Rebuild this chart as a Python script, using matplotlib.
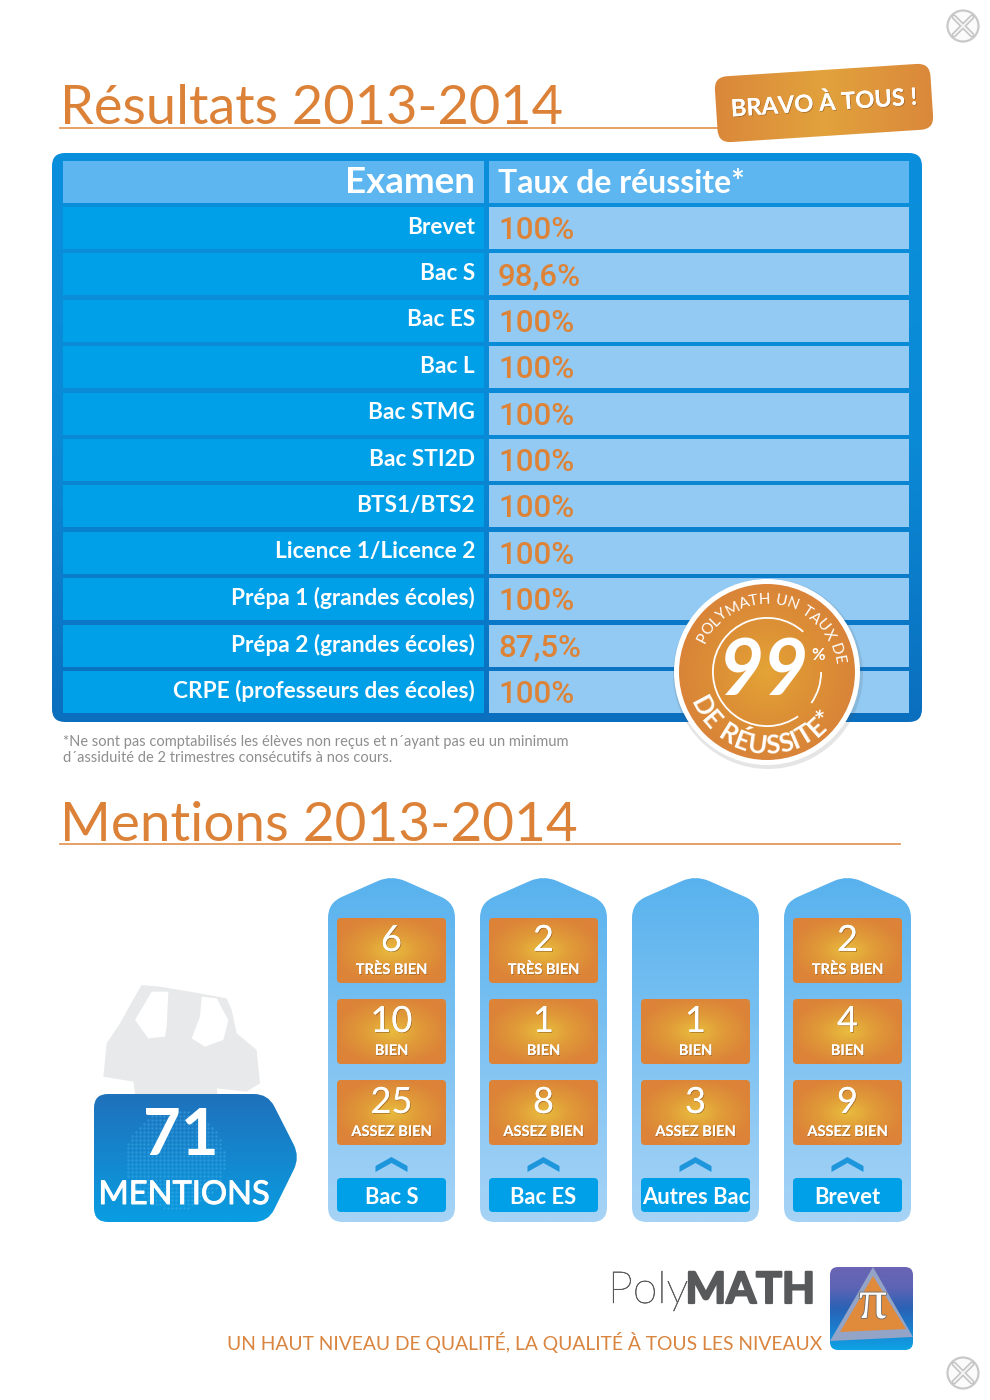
import numpy as np
import matplotlib
matplotlib.use("Agg")
import matplotlib.pyplot as plt
import matplotlib.patheffects as pe
from matplotlib.colors import LinearSegmentedColormap
from matplotlib.font_manager import FontProperties
from matplotlib.patches import Circle, FancyBboxPatch, PathPatch, Polygon, Wedge
from matplotlib.path import Path
from matplotlib.transforms import Affine2D

plt.rcParams['font.family'] = ['Lato', 'DejaVu Sans']

# Results table
exams = ["Brevet", "Bac S", "Bac ES", "Bac L", "Bac STMG", "Bac STI2D", "BTS1/BTS2",
         "Licence 1/Licence 2", "Prépa 1 (grandes écoles)", "Prépa 2 (grandes écoles)",
         "CRPE (professeurs des écoles)"]
rates = [100, 98.6, 100, 100, 100, 100, 100, 100, 100, 87.5, 100]

# Mentions per exam, None = no box
mention_exams = ["Bac S", "Bac ES", "Autres Bac", "Brevet"]
tres_bien = [6, 2, None, 2]
bien = [10, 1, 1, 4]
assez_bien = [25, 8, 3, 9]
mention_names = ["TRÈS BIEN", "BIEN", "ASSEZ BIEN"]
total_mentions = 71

ORANGE = "#dc8238"
LINE_ORANGE = "#e39a5c"

fig = plt.figure(figsize=(9.9, 14), dpi=100)
ax = fig.add_axes([0, 0, 1, 1])
ax.set_xlim(0, 990)
ax.set_ylim(1400, 0)
ax.axis("off")


def rounded_path(points, r):
    """Closed path through points with rounded corners."""
    pts = np.array(points, dtype=float)
    verts, codes = [], []
    n = len(pts)
    for i in range(n):
        p, prev, nxt = pts[i], pts[i - 1], pts[(i + 1) % n]
        a = p + (prev - p) / np.linalg.norm(prev - p) * r
        b = p + (nxt - p) / np.linalg.norm(nxt - p) * r
        verts += [a, p, b]
        codes += [Path.LINETO, Path.CURVE3, Path.CURVE3]
    codes[0] = Path.MOVETO
    verts.append(verts[0])
    codes.append(Path.CLOSEPOLY)
    return Path(verts, codes)


def fill_gradient(patch, box, colors, mode="v", z=2):
    """Clip a gradient image to patch. mode: v, h or r (radial)."""
    x0, y0, x1, y1 = box
    u, v = np.meshgrid(np.linspace(-1, 1, 120), np.linspace(-1, 1, 120))
    if mode == "v":
        g = (v + 1) / 2
    elif mode == "h":
        g = np.abs(u)
    else:
        g = np.clip(np.sqrt(u**2 + v**2) / 1.05, 0, 1)
    cmap = LinearSegmentedColormap.from_list("g", colors)
    patch.set_facecolor("none")
    patch.set_edgecolor("none")
    patch.set_zorder(z)
    ax.add_patch(patch)
    im = ax.imshow(g, extent=(x0, x1, y1, y0), cmap=cmap, vmin=0, vmax=1,
                   aspect="auto", zorder=z, interpolation="bilinear")
    im.set_clip_path(patch)


def round_box(x, y, w, h, r, **kw):
    return FancyBboxPatch((x + r, y + r), w - 2 * r, h - 2 * r,
                          boxstyle=f"round,pad={r},rounding_size={r}", linewidth=0, **kw)


def close_button(cx, cy):
    ax.add_patch(Circle((cx, cy), 15.5, fc="#fbfbfb", ec="#c9c9c9", lw=1.6, zorder=3))
    for dx in (-1, 1):
        ax.plot([cx - 9, cx + 9], [cy - 9 * dx, cy + 9 * dx], color="#c4c4c4", lw=3.6,
                solid_capstyle="round", zorder=4)
    for dx in (-1, 1):
        ax.plot([cx - 9, cx + 9], [cy - 9 * dx, cy + 9 * dx], color="#f4f4f4", lw=1.4,
                solid_capstyle="round", zorder=4)


def arc_text(s, cx, cy, radius, start, end, top, size, weight="normal"):
    """Characters along a circle between two angles (degrees, screen counter-clockwise)."""
    fp = FontProperties(family="Lato", size=size, weight=weight)
    rend = fig.canvas.get_renderer()
    widths = []
    for ch in s:
        w = rend.get_text_width_height_descent(ch, fp, False)[0] if ch != " " else size * 0.45
        widths.append(w + 0.6)
    widths = np.array(widths)
    centres = (np.cumsum(widths) - widths / 2) / widths.sum()
    for ch, c in zip(s, centres):
        ang = start + (end - start) * c
        x = cx + radius * np.cos(np.radians(ang))
        y = cy - radius * np.sin(np.radians(ang))
        rot = ang - 90 if top else ang + 90
        ax.text(x, y, ch, fontproperties=fp, color="white", rotation=rot,
                rotation_mode="anchor", ha="center", va="center", zorder=14)


white_shadow = [pe.withSimplePatchShadow(offset=(0.6, -0.6), shadow_rgbFace="#7a4a20", alpha=0.55),
                pe.Normal()]

close_button(963, 26)
close_button(963, 1373)

# Title 1 and badge
ax.text(60, 124, "Résultats 2013-2014", fontsize=39, color=ORANGE, va="baseline")
ax.plot([60, 730], [128, 128], color=LINE_ORANGE, lw=1.3, zorder=1)

badge = round_box(716, 70, 216, 66, 13)
badge.set_transform(Affine2D().rotate_deg_around(824, 103, -3.7) + ax.transData)
fill_gradient(badge, (700, 50, 950, 150), ["#e2a23c", "#d9843a"], mode="h", z=5)
ax.text(824, 103, "BRAVO À TOUS !", fontsize=17, color="white", rotation=3.7, weight="bold",
        ha="center", va="center", rotation_mode="anchor", zorder=6, path_effects=white_shadow)

# Table
frame = round_box(52, 153, 870, 569, 13)
fill_gradient(frame, (52, 153, 922, 722), ["#0a8fdc", "#0a8ad6", "#0b6fbe"], z=2)
ax.add_patch(plt.Rectangle((63, 161), 421, 42, fc="#5db6ef", lw=0, zorder=3))
ax.add_patch(plt.Rectangle((489, 161), 420, 42, fc="#5db6ef", lw=0, zorder=3))
ax.text(475, 193, "Examen", fontsize=26.5, color="white", ha="right", va="baseline", zorder=4, weight="bold")
ax.text(498, 193, "Taux de réussite*", fontsize=23, color="white", va="baseline", zorder=4, weight="bold")

row_top, row_step, row_h = 207, 46.4, 42
for i, (exam, rate) in enumerate(zip(exams, rates)):
    y = row_top + i * row_step
    ax.add_patch(plt.Rectangle((63, y), 421, row_h, fc="#00a0e9", lw=0, zorder=3))
    ax.add_patch(plt.Rectangle((489, y), 420, row_h, fc="#92caf3", lw=0, zorder=3))
    ax.text(475, y + 20, exam, fontsize=16.3, color="white", ha="right", va="center", zorder=4, weight="bold")
    label = f"{rate:g}%".replace(".", ",")
    ax.text(498, y + 32, label, fontsize=22.5, color="#dd8338", va="baseline", zorder=4,
            family="Roboto", weight="medium")

ax.text(63, 746, "*Ne sont pas comptabilisés les élèves non reçus et n´ayant pas eu un minimum",
        fontsize=10.5, color="#8e8e8e", va="baseline")
ax.text(63, 762, "d´assiduité de 2 trimestres consécutifs à nos cours.",
        fontsize=10.5, color="#8e8e8e", va="baseline")

# Round seal
cx, cy = 767, 672
ax.add_patch(Circle((cx + 1, cy + 2), 95, fc="#555555", alpha=0.15, lw=0, zorder=9))
ax.add_patch(Circle((cx, cy), 93, fc="white", lw=0, zorder=10))
seal = Circle((cx, cy), 88)
fill_gradient(seal, (cx - 88, cy - 88, cx + 88, cy + 88), ["#e4a436", "#dd9135", "#d98339"], mode="r", z=11)
for a0, a1 in [(48, 305), (325, 360)]:
    ax.add_patch(Wedge((cx, cy), 55, -a1, -a0, width=1.8, fc="white", lw=0, zorder=12))
ax.text(cx - 4, cy + 1, "99", fontsize=56, color="white", weight="bold", style="italic",
        ha="center", va="center", zorder=13)
ax.text(cx + 51, cy - 17, "%", fontsize=12, color="white", weight="bold", ha="center", va="center", zorder=13)
arc_text("POLYMATH UN TAUX DE", cx, cy, 72, 156, 6, True, 11)
arc_text("DE RÉUSSITE*", cx, cy, 74, 201, 326, False, 18.5, weight="bold")

# Title 2
ax.text(60, 841, "Mentions 2013-2014", fontsize=39.5, color=ORANGE, va="baseline")
ax.plot([60, 900], [844, 844], color=LINE_ORANGE, lw=1.3, zorder=1)

# Silhouette above the total
sil_x = np.array([165, 160, 70, 80, 120, 170, 185, 240, 330, 440, 455, 470, 530, 540, 500, 410, 415, 165]) / 3 + 80
sil_y = np.array([670, 635, 620, 520, 460, 370, 345, 350, 365, 385, 420, 490, 540, 640, 665, 655, 690, 690]) / 3 + 870
ax.add_patch(Polygon(np.c_[sil_x, sil_y], fc="#e8e9ea", lw=0, zorder=1))
for hx, hy in [([215, 265, 260, 255, 205, 165], [365, 365, 470, 500, 505, 450]),
               ([365, 410, 445, 430, 375, 335, 360], [380, 385, 450, 510, 530, 505, 440])]:
    ax.add_patch(Polygon(np.c_[np.array(hx) / 3 + 80, np.array(hy) / 3 + 870], fc="white", lw=0, zorder=1))

# Total block
penta = PathPatch(rounded_path([(94, 1094), (268, 1094), (300, 1157), (268, 1222), (94, 1222)], 14))
fill_gradient(penta, (94, 1094, 300, 1222), ["#1f71bb", "#0a9de2"], z=3)
gx, gy = np.meshgrid(np.arange(124, 226, 4.0), np.arange(1108, 1210, 4.0))
keep = np.hypot(gx - 175, gy - 1160) < 50
ax.scatter(gx[keep], gy[keep], s=3, c="#45b4ee", alpha=0.45, lw=0, zorder=4)
ax.text(181, 1155, str(total_mentions), fontsize=47, color="white", ha="center", va="baseline", zorder=5, weight="bold")
ax.text(184, 1204, "MENTIONS", fontsize=23.5, color="white", ha="center", va="baseline", zorder=5,
        path_effects=[pe.withStroke(linewidth=0.7, foreground="white")])

# Mention columns
col_left, col_step, col_w = 328, 152, 127
box_tops = [918, 999, 1080]
for i, exam in enumerate(mention_exams):
    x = col_left + i * col_step
    mid = x + col_w / 2
    col = PathPatch(rounded_path([(x, 1222), (x, 903), (mid, 875), (x + col_w, 903), (x + col_w, 1222)], 15))
    fill_gradient(col, (x, 875, x + col_w, 1222), ["#58b2ee", "#a6d3f6"], z=2)
    for top, name, val in zip(box_tops, mention_names, (tres_bien[i], bien[i], assez_bien[i])):
        if val is None:
            continue
        b = round_box(x + 9, top, 109, 65, 4)
        fill_gradient(b, (x + 9, top, x + 118, top + 65), ["#e9bc3e", "#e09a38", "#dc8338"], mode="r", z=3)
        ax.text(mid, top + 33, str(val), fontsize=26, color="white", ha="center", va="baseline", zorder=4,
                path_effects=white_shadow)
        ax.text(mid, top + 56, name, fontsize=10.5, color="white", ha="center", va="baseline", zorder=4,
                weight="bold", path_effects=white_shadow)
    ax.add_patch(Polygon([(mid - 16, 1166), (mid, 1157), (mid + 16, 1166), (mid + 16, 1172), (mid, 1163), (mid - 16, 1172)],
                         fc="#1e96dc", lw=0, zorder=3))
    ax.add_patch(round_box(x + 9, 1178, 109, 34, 4, fc="#00a0e9", zorder=3))
    ax.text(mid, 1204, exam, fontsize=15.8, color="white", ha="center", va="baseline", zorder=4, weight="bold")

# Logo
ax.text(608, 1303, "Poly", fontsize=32, color="#58595b", va="baseline", weight="light",
        path_effects=[pe.withStroke(linewidth=0.4, foreground="#58595b")])
ax.text(815, 1303, "MATH", fontsize=31, color="#58595b", va="baseline", ha="right", weight="bold",
        path_effects=[pe.withStroke(linewidth=1.6, foreground="#58595b")])
ax.text(822, 1350, "UN HAUT NIVEAU DE QUALITÉ, LA QUALITÉ À TOUS LES NIVEAUX", fontsize=13.85,
        color="#d9843f", va="baseline", ha="right")
icon = round_box(830, 1267, 83, 83, 8)
fill_gradient(icon, (830, 1267, 913, 1350), ["#6a65b4", "#5d64b5", "#2a62b6", "#1a7fcf", "#0ea3e6"], z=3)
ax.add_patch(Polygon([(873, 1267), (830, 1341), (913, 1337)], fc="#93a4c6", lw=0, zorder=4))
ax.add_patch(Polygon([(873, 1276), (840, 1332), (906, 1329)], fc="#e08a3c", lw=0, zorder=5))
ax.text(873, 1304, "π", fontsize=40, family="Liberation Serif", color="white", ha="center", va="center", zorder=6,
        path_effects=[pe.withStroke(linewidth=1.2, foreground="#6d6d6d")])

fig.savefig("out.png", dpi=100)
